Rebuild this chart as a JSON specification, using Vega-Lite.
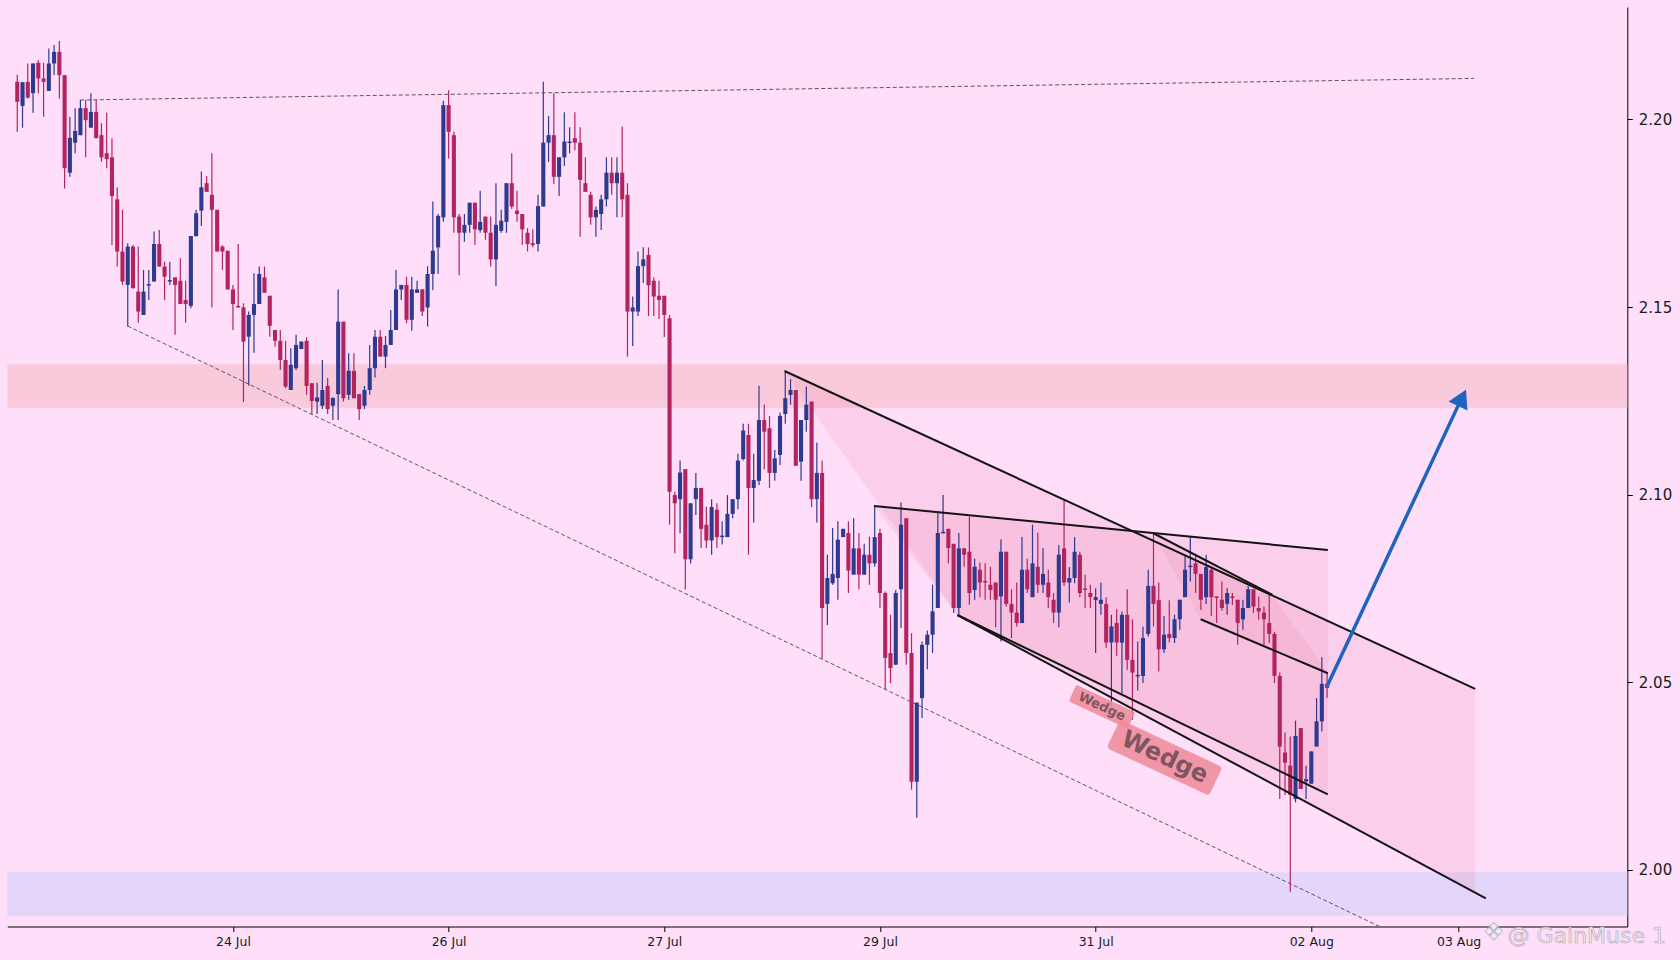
{
  "$schema": "https://vega.github.io/schema/vega-lite/v6.json",
  "width": 1620,
  "height": 919.5,
  "autosize": {"type": "none"},
  "padding": {"left": 7.3, "top": 7, "right": 52.7, "bottom": 33.5},
  "background": "#FEDEF9",
  "config": {
    "view": {"stroke": null},
    "axis": {"grid": false, "domainColor": "#000000", "tickColor": "#000000", "labelColor": "#1a1a1a", "labelFont": "DejaVu Sans", "domainWidth": 1, "tickWidth": 1}
  },
  "datasets": {
    "zones": [
      {"zone": "supply", "lo": 2.12318, "hi": 2.13474},
      {"zone": "demand", "lo": 1.98782, "hi": 1.99938}
    ],
    "shades": [
      {"shape": "channel", "x": 145.85, "top": 2.13296, "bot": 2.13296},
      {"shape": "channel", "x": 178.73, "top": 2.11175, "bot": 2.06794},
      {"shape": "channel", "x": 277.16, "top": 2.04825, "bot": 1.99398},
      {"shape": "wedge", "x": 162.86, "top": 2.0970, "bot": 2.0970},
      {"shape": "wedge", "x": 178.73, "top": 2.09484, "bot": 2.06794},
      {"shape": "wedge", "x": 249.14, "top": 2.08526, "bot": 2.02017},
      {"shape": "flag", "x": 215.89, "top": 2.08979, "bot": 2.08979},
      {"shape": "flag", "x": 224.96, "top": 2.08322, "bot": 2.0668},
      {"shape": "flag", "x": 238.56, "top": 2.07338, "bot": 2.05871},
      {"shape": "flag", "x": 249.14, "top": 2.05241, "bot": 2.05241}
    ],
    "dashed": [
      {"x": 11.98, "y": 2.20516, "x2": 276.9, "y2": 2.21092},
      {"x": 20.97, "y": 2.14495, "x2": 258.96, "y2": 1.98494}
    ],
    "solid": [
      {"x": 145.85, "y": 2.13296, "x2": 277.16, "y2": 2.04825},
      {"x": 162.86, "y": 2.0970, "x2": 249.14, "y2": 2.08526},
      {"x": 178.73, "y": 2.06794, "x2": 249.14, "y2": 2.02017},
      {"x": 178.73, "y": 2.06794, "x2": 279.18, "y2": 1.99246},
      {"x": 215.89, "y": 2.08979, "x2": 238.56, "y2": 2.07338},
      {"x": 224.96, "y": 2.0668, "x2": 249.14, "y2": 2.05241}
    ],
    "arrow": [{"x": 248.95, "y": 2.04883, "x2": 274.0, "y2": 2.1240}],
    "arrowhead": [{"x": 274.65, "y": 2.12581}],
    "labels": [
      {"tag": "small", "x": 206.2, "y": 2.04351, "label": "Wedge"},
      {"tag": "large", "x": 218.1, "y": 2.02997, "label": "Wedge"}
    ],
    "watermark": [
      {"tag": "logo", "x": 280.7, "y": 1.98321, "label": "❖"},
      {"tag": "name", "x": 283.3, "y": 1.98055, "label": "@ GainMuse 1"}
    ],
    "candles": [
      {"i":0,"o":2.2100,"h":2.2119,"l":2.1967,"c":2.2047},
      {"i":1,"o":2.2036,"h":2.2100,"l":2.1978,"c":2.2099},
      {"i":2,"o":2.2100,"h":2.2149,"l":2.2056,"c":2.2058},
      {"i":3,"o":2.2070,"h":2.2149,"l":2.2018,"c":2.2149},
      {"i":4,"o":2.2151,"h":2.2158,"l":2.2070,"c":2.2109},
      {"i":5,"o":2.2109,"h":2.2151,"l":2.2007,"c":2.2100},
      {"i":6,"o":2.2076,"h":2.2189,"l":2.2076,"c":2.2149},
      {"i":7,"o":2.2149,"h":2.2198,"l":2.2118,"c":2.2180},
      {"i":8,"o":2.2180,"h":2.2209,"l":2.2056,"c":2.2118},
      {"i":9,"o":2.2118,"h":2.2118,"l":2.1816,"c":2.1870},
      {"i":10,"o":2.1858,"h":2.2007,"l":2.1847,"c":2.1951},
      {"i":11,"o":2.1938,"h":2.2030,"l":2.1910,"c":2.1969},
      {"i":12,"o":2.1958,"h":2.2052,"l":2.1958,"c":2.2030},
      {"i":13,"o":2.2030,"h":2.2052,"l":2.1899,"c":2.1998},
      {"i":14,"o":2.1978,"h":2.2070,"l":2.1978,"c":2.2020},
      {"i":15,"o":2.2020,"h":2.2052,"l":2.1950,"c":2.1950},
      {"i":16,"o":2.1958,"h":2.1990,"l":2.1887,"c":2.1899},
      {"i":17,"o":2.1910,"h":2.2018,"l":2.1870,"c":2.1894},
      {"i":18,"o":2.1899,"h":2.1950,"l":2.1665,"c":2.1796},
      {"i":19,"o":2.1787,"h":2.1819,"l":2.1608,"c":2.1648},
      {"i":20,"o":2.1648,"h":2.1759,"l":2.1559,"c":2.1568},
      {"i":21,"o":2.1559,"h":2.1670,"l":2.1448,"c":2.1661},
      {"i":22,"o":2.1661,"h":2.1665,"l":2.1550,"c":2.1550},
      {"i":23,"o":2.1541,"h":2.1661,"l":2.1458,"c":2.1488},
      {"i":24,"o":2.1479,"h":2.1599,"l":2.1479,"c":2.1541},
      {"i":25,"o":2.1557,"h":2.1599,"l":2.1519,"c":2.1561},
      {"i":26,"o":2.1568,"h":2.1701,"l":2.1568,"c":2.1668},
      {"i":27,"o":2.1668,"h":2.1705,"l":2.1608,"c":2.1608},
      {"i":28,"o":2.1608,"h":2.1621,"l":2.1519,"c":2.1581},
      {"i":29,"o":2.1568,"h":2.1621,"l":2.1559,"c":2.1572},
      {"i":30,"o":2.1579,"h":2.1579,"l":2.1426,"c":2.1559},
      {"i":31,"o":2.1570,"h":2.1630,"l":2.1508,"c":2.1508},
      {"i":32,"o":2.1519,"h":2.1570,"l":2.1458,"c":2.1508},
      {"i":33,"o":2.1503,"h":2.1689,"l":2.1497,"c":2.1689},
      {"i":34,"o":2.1689,"h":2.1759,"l":2.1688,"c":2.1750},
      {"i":35,"o":2.1757,"h":2.1861,"l":2.1716,"c":2.1819},
      {"i":36,"o":2.1830,"h":2.1849,"l":2.1807,"c":2.1807},
      {"i":37,"o":2.1799,"h":2.1910,"l":2.1499,"c":2.1759},
      {"i":38,"o":2.1759,"h":2.1759,"l":2.1648,"c":2.1648},
      {"i":39,"o":2.1661,"h":2.1665,"l":2.1599,"c":2.1648},
      {"i":40,"o":2.1650,"h":2.1650,"l":2.1547,"c":2.1547},
      {"i":41,"o":2.1547,"h":2.1559,"l":2.1439,"c":2.1508},
      {"i":42,"o":2.1503,"h":2.1668,"l":2.1499,"c":2.1499},
      {"i":43,"o":2.1499,"h":2.1510,"l":2.1247,"c":2.1408},
      {"i":44,"o":2.1421,"h":2.1488,"l":2.1290,"c":2.1479},
      {"i":45,"o":2.1479,"h":2.1590,"l":2.1378,"c":2.1508},
      {"i":46,"o":2.1508,"h":2.1608,"l":2.1508,"c":2.1588},
      {"i":47,"o":2.1579,"h":2.1608,"l":2.1538,"c":2.1538},
      {"i":48,"o":2.1530,"h":2.1530,"l":2.1421,"c":2.1450},
      {"i":49,"o":2.1439,"h":2.1439,"l":2.1394,"c":2.1410},
      {"i":50,"o":2.1410,"h":2.1439,"l":2.1332,"c":2.1359},
      {"i":51,"o":2.1359,"h":2.1410,"l":2.1284,"c":2.1288},
      {"i":52,"o":2.1279,"h":2.1390,"l":2.1279,"c":2.1346},
      {"i":53,"o":2.1337,"h":2.1426,"l":2.1332,"c":2.1399},
      {"i":54,"o":2.1388,"h":2.1408,"l":2.1388,"c":2.1408},
      {"i":55,"o":2.1410,"h":2.1420,"l":2.1266,"c":2.1290},
      {"i":56,"o":2.1297,"h":2.1297,"l":2.1215,"c":2.1250},
      {"i":57,"o":2.1248,"h":2.1298,"l":2.1215,"c":2.1259},
      {"i":58,"o":2.1237,"h":2.1359,"l":2.1228,"c":2.1279},
      {"i":59,"o":2.1290,"h":2.1311,"l":2.1215,"c":2.1228},
      {"i":60,"o":2.1237,"h":2.1258,"l":2.1199,"c":2.1258},
      {"i":61,"o":2.1268,"h":2.1547,"l":2.1199,"c":2.1461},
      {"i":62,"o":2.1461,"h":2.1461,"l":2.1248,"c":2.1257},
      {"i":63,"o":2.1266,"h":2.1377,"l":2.1253,"c":2.1330},
      {"i":64,"o":2.1330,"h":2.1377,"l":2.1257,"c":2.1257},
      {"i":65,"o":2.1268,"h":2.1268,"l":2.1199,"c":2.1228},
      {"i":66,"o":2.1237,"h":2.1290,"l":2.1228,"c":2.1279},
      {"i":67,"o":2.1279,"h":2.1399,"l":2.1266,"c":2.1337},
      {"i":68,"o":2.1337,"h":2.1439,"l":2.1312,"c":2.1421},
      {"i":69,"o":2.1421,"h":2.1439,"l":2.1368,"c":2.1368},
      {"i":70,"o":2.1368,"h":2.1423,"l":2.1337,"c":2.1399},
      {"i":71,"o":2.1399,"h":2.1492,"l":2.1399,"c":2.1439},
      {"i":72,"o":2.1439,"h":2.1599,"l":2.1439,"c":2.1547},
      {"i":73,"o":2.1547,"h":2.1559,"l":2.1519,"c":2.1559},
      {"i":74,"o":2.1559,"h":2.1581,"l":2.1457,"c":2.1466},
      {"i":75,"o":2.1466,"h":2.1581,"l":2.1437,"c":2.1547},
      {"i":76,"o":2.1538,"h":2.1570,"l":2.1538,"c":2.1547},
      {"i":77,"o":2.1547,"h":2.1547,"l":2.1476,"c":2.1488},
      {"i":78,"o":2.1499,"h":2.1609,"l":2.1448,"c":2.1588},
      {"i":79,"o":2.1588,"h":2.1781,"l":2.1545,"c":2.1650},
      {"i":80,"o":2.1659,"h":2.1748,"l":2.1588,"c":2.1743},
      {"i":81,"o":2.1739,"h":2.2050,"l":2.1727,"c":2.2038},
      {"i":82,"o":2.2038,"h":2.2078,"l":2.1896,"c":2.1967},
      {"i":83,"o":2.1958,"h":2.1967,"l":2.1698,"c":2.1739},
      {"i":84,"o":2.1741,"h":2.1748,"l":2.1585,"c":2.1698},
      {"i":85,"o":2.1698,"h":2.1748,"l":2.1674,"c":2.1719},
      {"i":86,"o":2.1719,"h":2.1778,"l":2.1698,"c":2.1778},
      {"i":87,"o":2.1778,"h":2.1778,"l":2.1665,"c":2.1707},
      {"i":88,"o":2.1705,"h":2.1810,"l":2.1698,"c":2.1727},
      {"i":89,"o":2.1741,"h":2.1741,"l":2.1679,"c":2.1698},
      {"i":90,"o":2.1698,"h":2.1741,"l":2.1608,"c":2.1627},
      {"i":91,"o":2.1627,"h":2.1830,"l":2.1556,"c":2.1719},
      {"i":92,"o":2.1703,"h":2.1759,"l":2.1698,"c":2.1730},
      {"i":93,"o":2.1727,"h":2.1830,"l":2.1698,"c":2.1830},
      {"i":94,"o":2.1830,"h":2.1910,"l":2.1761,"c":2.1768},
      {"i":95,"o":2.1757,"h":2.1810,"l":2.1727,"c":2.1748},
      {"i":96,"o":2.1748,"h":2.1748,"l":2.1665,"c":2.1707},
      {"i":97,"o":2.1698,"h":2.1710,"l":2.1648,"c":2.1668},
      {"i":98,"o":2.1670,"h":2.1707,"l":2.1659,"c":2.1665},
      {"i":99,"o":2.1668,"h":2.1799,"l":2.1648,"c":2.1769},
      {"i":100,"o":2.1768,"h":2.2100,"l":2.1768,"c":2.1938},
      {"i":101,"o":2.1938,"h":2.2009,"l":2.1887,"c":2.1958},
      {"i":102,"o":2.1958,"h":2.2070,"l":2.1828,"c":2.1847},
      {"i":103,"o":2.1847,"h":2.1899,"l":2.1796,"c":2.1899},
      {"i":104,"o":2.1899,"h":2.2019,"l":2.1876,"c":2.1941},
      {"i":105,"o":2.1937,"h":2.1979,"l":2.1910,"c":2.1941},
      {"i":106,"o":2.1950,"h":2.2019,"l":2.1918,"c":2.1938},
      {"i":107,"o":2.1938,"h":2.1979,"l":2.1687,"c":2.1839},
      {"i":108,"o":2.1830,"h":2.1899,"l":2.1807,"c":2.1807},
      {"i":109,"o":2.1799,"h":2.1807,"l":2.1719,"c":2.1739},
      {"i":110,"o":2.1739,"h":2.1768,"l":2.1687,"c":2.1759},
      {"i":111,"o":2.1748,"h":2.1799,"l":2.1705,"c":2.1787},
      {"i":112,"o":2.1787,"h":2.1899,"l":2.1768,"c":2.1858},
      {"i":113,"o":2.1858,"h":2.1899,"l":2.1799,"c":2.1830},
      {"i":114,"o":2.1830,"h":2.1899,"l":2.1739,"c":2.1858},
      {"i":115,"o":2.1858,"h":2.1981,"l":2.1739,"c":2.1787},
      {"i":116,"o":2.1799,"h":2.1830,"l":2.1368,"c":2.1488},
      {"i":117,"o":2.1488,"h":2.1528,"l":2.1396,"c":2.1499},
      {"i":118,"o":2.1488,"h":2.1648,"l":2.1476,"c":2.1609},
      {"i":119,"o":2.1609,"h":2.1659,"l":2.1564,"c":2.1627},
      {"i":120,"o":2.1639,"h":2.1659,"l":2.1476,"c":2.1558},
      {"i":121,"o":2.1570,"h":2.1579,"l":2.1476,"c":2.1528},
      {"i":122,"o":2.1530,"h":2.1570,"l":2.1468,"c":2.1519},
      {"i":123,"o":2.1530,"h":2.1530,"l":2.1420,"c":2.1479},
      {"i":124,"o":2.1470,"h":2.1479,"l":2.0920,"c":2.1008},
      {"i":125,"o":2.0999,"h":2.1008,"l":2.0844,"c":2.0977},
      {"i":126,"o":2.0988,"h":2.1091,"l":2.0897,"c":2.1059},
      {"i":127,"o":2.1068,"h":2.1068,"l":2.0748,"c":2.0828},
      {"i":128,"o":2.0828,"h":2.0977,"l":2.0817,"c":2.0977},
      {"i":129,"o":2.0988,"h":2.1058,"l":2.0946,"c":2.1018},
      {"i":130,"o":2.1018,"h":2.1018,"l":2.0858,"c":2.0909},
      {"i":131,"o":2.0920,"h":2.0968,"l":2.0858,"c":2.0878},
      {"i":132,"o":2.0878,"h":2.0988,"l":2.0840,"c":2.0967},
      {"i":133,"o":2.0960,"h":2.0977,"l":2.0858,"c":2.0887},
      {"i":134,"o":2.0887,"h":2.0929,"l":2.0867,"c":2.0891},
      {"i":135,"o":2.0887,"h":2.0999,"l":2.0887,"c":2.0949},
      {"i":136,"o":2.0949,"h":2.0988,"l":2.0937,"c":2.0988},
      {"i":137,"o":2.0988,"h":2.1109,"l":2.0961,"c":2.1091},
      {"i":138,"o":2.1095,"h":2.1189,"l":2.1091,"c":2.1171},
      {"i":139,"o":2.1159,"h":2.1189,"l":2.0840,"c":2.1018},
      {"i":140,"o":2.1018,"h":2.1109,"l":2.0926,"c":2.1039},
      {"i":141,"o":2.1037,"h":2.1290,"l":2.1026,"c":2.1199},
      {"i":142,"o":2.1199,"h":2.1240,"l":2.1068,"c":2.1168},
      {"i":143,"o":2.1177,"h":2.1210,"l":2.1018,"c":2.1058},
      {"i":144,"o":2.1058,"h":2.1119,"l":2.1037,"c":2.1097},
      {"i":145,"o":2.1106,"h":2.1219,"l":2.1079,"c":2.1210},
      {"i":146,"o":2.1215,"h":2.1328,"l":2.1189,"c":2.1257},
      {"i":147,"o":2.1266,"h":2.1308,"l":2.1240,"c":2.1279},
      {"i":148,"o":2.1279,"h":2.1279,"l":2.1077,"c":2.1077},
      {"i":149,"o":2.1088,"h":2.1199,"l":2.1037,"c":2.1199},
      {"i":150,"o":2.1199,"h":2.1288,"l":2.1168,"c":2.1240},
      {"i":151,"o":2.1248,"h":2.1248,"l":2.0967,"c":2.0988},
      {"i":152,"o":2.0988,"h":2.1139,"l":2.0926,"c":2.1058},
      {"i":153,"o":2.1058,"h":2.1091,"l":2.0563,"c":2.0698},
      {"i":154,"o":2.0709,"h":2.0840,"l":2.0653,"c":2.0778},
      {"i":155,"o":2.0764,"h":2.0911,"l":2.0760,"c":2.0789},
      {"i":156,"o":2.0778,"h":2.0929,"l":2.0720,"c":2.0880},
      {"i":157,"o":2.0887,"h":2.0909,"l":2.0887,"c":2.0909},
      {"i":158,"o":2.0898,"h":2.0929,"l":2.0738,"c":2.0798},
      {"i":159,"o":2.0787,"h":2.0937,"l":2.0787,"c":2.0857},
      {"i":160,"o":2.0857,"h":2.0898,"l":2.0748,"c":2.0787},
      {"i":161,"o":2.0787,"h":2.0869,"l":2.0787,"c":2.0840},
      {"i":162,"o":2.0840,"h":2.0888,"l":2.0760,"c":2.0817},
      {"i":163,"o":2.0817,"h":2.0970,"l":2.0808,"c":2.0887},
      {"i":164,"o":2.0898,"h":2.0909,"l":2.0698,"c":2.0738},
      {"i":165,"o":2.0738,"h":2.0742,"l":2.0480,"c":2.0565},
      {"i":166,"o":2.0578,"h":2.0680,"l":2.0498,"c":2.0538},
      {"i":167,"o":2.0547,"h":2.0746,"l":2.0547,"c":2.0738},
      {"i":168,"o":2.0748,"h":2.0979,"l":2.0645,"c":2.0920},
      {"i":169,"o":2.0937,"h":2.0937,"l":2.0547,"c":2.0578},
      {"i":170,"o":2.0578,"h":2.0631,"l":2.0214,"c":2.0235},
      {"i":171,"o":2.0235,"h":2.0446,"l":2.0139,"c":2.0446},
      {"i":172,"o":2.0458,"h":2.0609,"l":2.0405,"c":2.0600},
      {"i":173,"o":2.0600,"h":2.0638,"l":2.0535,"c":2.0627},
      {"i":174,"o":2.0627,"h":2.0760,"l":2.0578,"c":2.0689},
      {"i":175,"o":2.0698,"h":2.0955,"l":2.0698,"c":2.0898},
      {"i":176,"o":2.0897,"h":2.0999,"l":2.0897,"c":2.0901},
      {"i":177,"o":2.0909,"h":2.0909,"l":2.0817,"c":2.0858},
      {"i":178,"o":2.0869,"h":2.0869,"l":2.0685,"c":2.0698},
      {"i":179,"o":2.0698,"h":2.0898,"l":2.0680,"c":2.0857},
      {"i":180,"o":2.0857,"h":2.0857,"l":2.0808,"c":2.0840},
      {"i":181,"o":2.0848,"h":2.0942,"l":2.0707,"c":2.0738},
      {"i":182,"o":2.0746,"h":2.0829,"l":2.0720,"c":2.0808},
      {"i":183,"o":2.0800,"h":2.0819,"l":2.0727,"c":2.0766},
      {"i":184,"o":2.0770,"h":2.0817,"l":2.0720,"c":2.0766},
      {"i":185,"o":2.0760,"h":2.0808,"l":2.0720,"c":2.0746},
      {"i":186,"o":2.0766,"h":2.0766,"l":2.0647,"c":2.0720},
      {"i":187,"o":2.0729,"h":2.0881,"l":2.0609,"c":2.0848},
      {"i":188,"o":2.0848,"h":2.0848,"l":2.0702,"c":2.0709},
      {"i":189,"o":2.0709,"h":2.0748,"l":2.0618,"c":2.0686},
      {"i":190,"o":2.0686,"h":2.0766,"l":2.0649,"c":2.0658},
      {"i":191,"o":2.0658,"h":2.0887,"l":2.0658,"c":2.0800},
      {"i":192,"o":2.0800,"h":2.0829,"l":2.0738,"c":2.0748},
      {"i":193,"o":2.0727,"h":2.0920,"l":2.0727,"c":2.0817},
      {"i":194,"o":2.0808,"h":2.0899,"l":2.0738,"c":2.0760},
      {"i":195,"o":2.0760,"h":2.0857,"l":2.0738,"c":2.0789},
      {"i":196,"o":2.0766,"h":2.0800,"l":2.0698,"c":2.0727},
      {"i":197,"o":2.0720,"h":2.0738,"l":2.0658,"c":2.0686},
      {"i":198,"o":2.0686,"h":2.0866,"l":2.0647,"c":2.0840},
      {"i":199,"o":2.0857,"h":2.0986,"l":2.0757,"c":2.0766},
      {"i":200,"o":2.0766,"h":2.0807,"l":2.0713,"c":2.0778},
      {"i":201,"o":2.0778,"h":2.0887,"l":2.0764,"c":2.0848},
      {"i":202,"o":2.0840,"h":2.0848,"l":2.0727,"c":2.0738},
      {"i":203,"o":2.0750,"h":2.0787,"l":2.0698,"c":2.0746},
      {"i":204,"o":2.0738,"h":2.0760,"l":2.0698,"c":2.0727},
      {"i":205,"o":2.0719,"h":2.0751,"l":2.0578,"c":2.0727},
      {"i":206,"o":2.0709,"h":2.0766,"l":2.0680,"c":2.0720},
      {"i":207,"o":2.0709,"h":2.0727,"l":2.0592,"c":2.0606},
      {"i":208,"o":2.0606,"h":2.0680,"l":2.0436,"c":2.0649},
      {"i":209,"o":2.0658,"h":2.0695,"l":2.0571,"c":2.0606},
      {"i":210,"o":2.0606,"h":2.0689,"l":2.0471,"c":2.0680},
      {"i":211,"o":2.0680,"h":2.0748,"l":2.0533,"c":2.0560},
      {"i":212,"o":2.0560,"h":2.0668,"l":2.0400,"c":2.0526},
      {"i":213,"o":2.0516,"h":2.0609,"l":2.0478,"c":2.0520},
      {"i":214,"o":2.0517,"h":2.0649,"l":2.0498,"c":2.0618},
      {"i":215,"o":2.0629,"h":2.0800,"l":2.0622,"c":2.0757},
      {"i":216,"o":2.0757,"h":2.0898,"l":2.0649,"c":2.0709},
      {"i":217,"o":2.0719,"h":2.0766,"l":2.0529,"c":2.0588},
      {"i":218,"o":2.0588,"h":2.0677,"l":2.0578,"c":2.0627},
      {"i":219,"o":2.0629,"h":2.0719,"l":2.0606,"c":2.0618},
      {"i":220,"o":2.0618,"h":2.0680,"l":2.0605,"c":2.0668},
      {"i":221,"o":2.0668,"h":2.0720,"l":2.0640,"c":2.0720},
      {"i":222,"o":2.0727,"h":2.0837,"l":2.0727,"c":2.0800},
      {"i":223,"o":2.0807,"h":2.0887,"l":2.0769,"c":2.0811},
      {"i":224,"o":2.0817,"h":2.0840,"l":2.0738,"c":2.0789},
      {"i":225,"o":2.0789,"h":2.0789,"l":2.0693,"c":2.0720},
      {"i":226,"o":2.0727,"h":2.0840,"l":2.0709,"c":2.0807},
      {"i":227,"o":2.0800,"h":2.0807,"l":2.0677,"c":2.0727},
      {"i":228,"o":2.0729,"h":2.0729,"l":2.0658,"c":2.0725},
      {"i":229,"o":2.0720,"h":2.0769,"l":2.0691,"c":2.0698},
      {"i":230,"o":2.0709,"h":2.0751,"l":2.0680,"c":2.0738},
      {"i":231,"o":2.0729,"h":2.0738,"l":2.0706,"c":2.0725},
      {"i":232,"o":2.0720,"h":2.0720,"l":2.0600,"c":2.0658},
      {"i":233,"o":2.0668,"h":2.0720,"l":2.0640,"c":2.0698},
      {"i":234,"o":2.0698,"h":2.0757,"l":2.0698,"c":2.0748},
      {"i":235,"o":2.0748,"h":2.0748,"l":2.0685,"c":2.0702},
      {"i":236,"o":2.0698,"h":2.0729,"l":2.0667,"c":2.0689},
      {"i":237,"o":2.0686,"h":2.0702,"l":2.0600,"c":2.0668},
      {"i":238,"o":2.0658,"h":2.0733,"l":2.0605,"c":2.0629},
      {"i":239,"o":2.0629,"h":2.0635,"l":2.0498,"c":2.0517},
      {"i":240,"o":2.0517,"h":2.0526,"l":2.0189,"c":2.0329},
      {"i":241,"o":2.0313,"h":2.0366,"l":2.0200,"c":2.0286},
      {"i":242,"o":2.0278,"h":2.0356,"l":1.9942,"c":2.0200},
      {"i":243,"o":2.0189,"h":2.0398,"l":2.0180,"c":2.0357},
      {"i":244,"o":2.0378,"h":2.0378,"l":2.0216,"c":2.0216},
      {"i":245,"o":2.0236,"h":2.0278,"l":2.0189,"c":2.0242},
      {"i":246,"o":2.0230,"h":2.0316,"l":2.0230,"c":2.0316},
      {"i":247,"o":2.0329,"h":2.0458,"l":2.0329,"c":2.0396},
      {"i":248,"o":2.0396,"h":2.0567,"l":2.0369,"c":2.0496},
      {"i":249,"o":2.0496,"h":2.0525,"l":2.0458,"c":2.0485}
    ]
  },
  "layer": [
    {
      "data": {"name": "candles"},
      "mark": {"type": "bar", "size": 4.1},
      "encoding": {
        "x": {
          "field": "i", "type": "quantitative", "title": null,
          "scale": {"domain": [-0.945, 305.12], "nice": false, "zero": false},
          "axis": {
            "values": [41, 82, 123, 164, 205, 246, 274],
            "labelExpr": "datum.value == 41 ? '24 Jul' : datum.value == 82 ? '26 Jul' : datum.value == 123 ? '27 Jul' : datum.value == 164 ? '29 Jul' : datum.value == 205 ? '31 Jul' : datum.value == 246 ? '02 Aug' : '03 Aug'",
            "labelFontSize": 12.5, "tickSize": 5, "labelPadding": 4, "labelFlush": false, "labelOverlap": false
          }
        },
        "y": {
          "field": "o", "type": "quantitative", "title": null,
          "scale": {"domain": [1.98494, 2.22995], "nice": false, "zero": false},
          "axis": {"orient": "right", "values": [2.0, 2.05, 2.1, 2.15, 2.2], "format": ".2f", "labelFontSize": 15, "tickSize": 5, "labelPadding": 6, "labelFlush": false, "labelOverlap": false}
        },
        "y2": {"field": "c"},
        "opacity": {"value": 0}
      }
    },
    {
      "data": {"name": "zones"},
      "mark": {"type": "rect"},
      "encoding": {
        "y": {"field": "lo", "type": "quantitative", "title": null, "axis": {"orient": "right"}, "scale": {"domain": [1.98494, 2.22995], "nice": false, "zero": false}},
        "y2": {"field": "hi"},
        "color": {"field": "zone", "type": "nominal", "legend": null, "scale": {"domain": ["supply", "demand"], "range": ["#F9C9DC", "#E4D5FA"]}}
      }
    },
    {
      "data": {"name": "shades"},
      "mark": {"type": "area", "color": "#EF7FA2", "opacity": 0.16},
      "encoding": {
        "x": {"field": "x", "type": "quantitative", "title": null, "scale": {"domain": [-0.945, 305.12], "nice": false, "zero": false}},
        "y": {"field": "top", "type": "quantitative", "title": null, "axis": {"orient": "right"}, "scale": {"domain": [1.98494, 2.22995], "nice": false, "zero": false}},
        "y2": {"field": "bot"},
        "detail": {"field": "shape", "type": "nominal"}
      }
    },
    {
      "data": {"name": "dashed"},
      "mark": {"type": "rule", "color": "#5F5560", "strokeWidth": 1, "strokeDash": [4, 2.5]},
      "encoding": {
        "x": {"field": "x", "type": "quantitative", "title": null, "scale": {"domain": [-0.945, 305.12], "nice": false, "zero": false}},
        "y": {"field": "y", "type": "quantitative", "title": null, "axis": {"orient": "right"}, "scale": {"domain": [1.98494, 2.22995], "nice": false, "zero": false}},
        "x2": {"field": "x2"},
        "y2": {"field": "y2"}
      }
    },
    {
      "data": {"name": "candles"},
      "mark": {"type": "rule", "strokeWidth": 1.2},
      "encoding": {
        "x": {"field": "i", "type": "quantitative", "title": null, "scale": {"domain": [-0.945, 305.12], "nice": false, "zero": false}},
        "y": {"field": "l", "type": "quantitative", "title": null, "axis": {"orient": "right"}, "scale": {"domain": [1.98494, 2.22995], "nice": false, "zero": false}},
        "y2": {"field": "h"},
        "color": {"condition": {"test": "datum.c >= datum.o", "value": "#2E3A8F"}, "value": "#B3245F"}
      }
    },
    {
      "data": {"name": "candles"},
      "mark": {"type": "bar", "size": 4.1},
      "encoding": {
        "x": {"field": "i", "type": "quantitative", "title": null, "scale": {"domain": [-0.945, 305.12], "nice": false, "zero": false}},
        "y": {"field": "o", "type": "quantitative", "title": null, "axis": {"orient": "right"}, "scale": {"domain": [1.98494, 2.22995], "nice": false, "zero": false}},
        "y2": {"field": "c"},
        "color": {"condition": {"test": "datum.c >= datum.o", "value": "#2E3A8F"}, "value": "#B3245F"}
      }
    },
    {
      "data": {"name": "solid"},
      "mark": {"type": "rule", "color": "#141414", "strokeWidth": 2},
      "encoding": {
        "x": {"field": "x", "type": "quantitative", "title": null, "scale": {"domain": [-0.945, 305.12], "nice": false, "zero": false}},
        "y": {"field": "y", "type": "quantitative", "title": null, "axis": {"orient": "right"}, "scale": {"domain": [1.98494, 2.22995], "nice": false, "zero": false}},
        "x2": {"field": "x2"},
        "y2": {"field": "y2"}
      }
    },
    {
      "data": {"name": "labels"},
      "transform": [{"filter": "datum.tag == 'small'"}],
      "mark": {"type": "point", "shape": "M-0.93,-0.28L0.93,-0.28Q1,-0.28 1,-0.21L1,0.21Q1,0.28 0.93,0.28L-0.93,0.28Q-1,0.28 -1,0.21L-1,-0.21Q-1,-0.28 -0.93,-0.28Z", "filled": true, "color": "#EF8A99", "opacity": 0.85, "angle": 25, "size": 4225},
      "encoding": {
        "x": {"field": "x", "type": "quantitative", "title": null, "scale": {"domain": [-0.945, 305.12], "nice": false, "zero": false}},
        "y": {"field": "y", "type": "quantitative", "title": null, "axis": {"orient": "right"}, "scale": {"domain": [1.98494, 2.22995], "nice": false, "zero": false}}
      }
    },
    {
      "data": {"name": "labels"},
      "transform": [{"filter": "datum.tag == 'small'"}],
      "mark": {"type": "text", "angle": 25, "font": "DejaVu Sans", "fontWeight": "bold", "fontSize": 13, "color": "#7E5561", "align": "center", "baseline": "middle"},
      "encoding": {
        "x": {"field": "x", "type": "quantitative", "title": null, "scale": {"domain": [-0.945, 305.12], "nice": false, "zero": false}},
        "y": {"field": "y", "type": "quantitative", "title": null, "axis": {"orient": "right"}, "scale": {"domain": [1.98494, 2.22995], "nice": false, "zero": false}},
        "text": {"field": "label"}
      }
    },
    {
      "data": {"name": "labels"},
      "transform": [{"filter": "datum.tag == 'large'"}],
      "mark": {"type": "point", "shape": "M-0.93,-0.28L0.93,-0.28Q1,-0.28 1,-0.21L1,0.21Q1,0.28 0.93,0.28L-0.93,0.28Q-1,0.28 -1,0.21L-1,-0.21Q-1,-0.28 -0.93,-0.28Z", "filled": true, "color": "#EF8A99", "opacity": 0.85, "angle": 25, "size": 12769},
      "encoding": {
        "x": {"field": "x", "type": "quantitative", "title": null, "scale": {"domain": [-0.945, 305.12], "nice": false, "zero": false}},
        "y": {"field": "y", "type": "quantitative", "title": null, "axis": {"orient": "right"}, "scale": {"domain": [1.98494, 2.22995], "nice": false, "zero": false}}
      }
    },
    {
      "data": {"name": "labels"},
      "transform": [{"filter": "datum.tag == 'large'"}],
      "mark": {"type": "text", "angle": 25, "font": "DejaVu Sans", "fontWeight": "bold", "fontSize": 24, "color": "#7E5561", "align": "center", "baseline": "middle"},
      "encoding": {
        "x": {"field": "x", "type": "quantitative", "title": null, "scale": {"domain": [-0.945, 305.12], "nice": false, "zero": false}},
        "y": {"field": "y", "type": "quantitative", "title": null, "axis": {"orient": "right"}, "scale": {"domain": [1.98494, 2.22995], "nice": false, "zero": false}},
        "text": {"field": "label"}
      }
    },
    {
      "data": {"name": "arrow"},
      "mark": {"type": "rule", "color": "#1F63BF", "strokeWidth": 3.5},
      "encoding": {
        "x": {"field": "x", "type": "quantitative", "title": null, "scale": {"domain": [-0.945, 305.12], "nice": false, "zero": false}},
        "y": {"field": "y", "type": "quantitative", "title": null, "axis": {"orient": "right"}, "scale": {"domain": [1.98494, 2.22995], "nice": false, "zero": false}},
        "x2": {"field": "x2"},
        "y2": {"field": "y2"}
      }
    },
    {
      "data": {"name": "arrowhead"},
      "mark": {"type": "point", "shape": "triangle-up", "filled": true, "color": "#1F63BF", "opacity": 1, "angle": 26, "size": 440},
      "encoding": {
        "x": {"field": "x", "type": "quantitative", "title": null, "scale": {"domain": [-0.945, 305.12], "nice": false, "zero": false}},
        "y": {"field": "y", "type": "quantitative", "title": null, "axis": {"orient": "right"}, "scale": {"domain": [1.98494, 2.22995], "nice": false, "zero": false}}
      }
    },
    {
      "data": {"name": "watermark"},
      "transform": [{"filter": "datum.tag == 'name'"}],
      "mark": {"type": "text", "font": "DejaVu Sans", "fontSize": 22, "color": "#F2EBF2", "stroke": "#B0A5B0", "strokeWidth": 0.6, "align": "left", "baseline": "alphabetic"},
      "encoding": {
        "x": {"field": "x", "type": "quantitative", "title": null, "scale": {"domain": [-0.945, 305.12], "nice": false, "zero": false}},
        "y": {"field": "y", "type": "quantitative", "title": null, "axis": {"orient": "right"}, "scale": {"domain": [1.98494, 2.22995], "nice": false, "zero": false}},
        "text": {"field": "label"}
      }
    },
    {
      "data": {"name": "watermark"},
      "transform": [{"filter": "datum.tag == 'logo'"}],
      "mark": {"type": "text", "font": "DejaVu Sans", "fontSize": 24, "color": "#F2EBF2", "stroke": "#B0A5B0", "strokeWidth": 0.6, "align": "center", "baseline": "middle"},
      "encoding": {
        "x": {"field": "x", "type": "quantitative", "title": null, "scale": {"domain": [-0.945, 305.12], "nice": false, "zero": false}},
        "y": {"field": "y", "type": "quantitative", "title": null, "axis": {"orient": "right"}, "scale": {"domain": [1.98494, 2.22995], "nice": false, "zero": false}},
        "text": {"field": "label"}
      }
    }
  ]
}
